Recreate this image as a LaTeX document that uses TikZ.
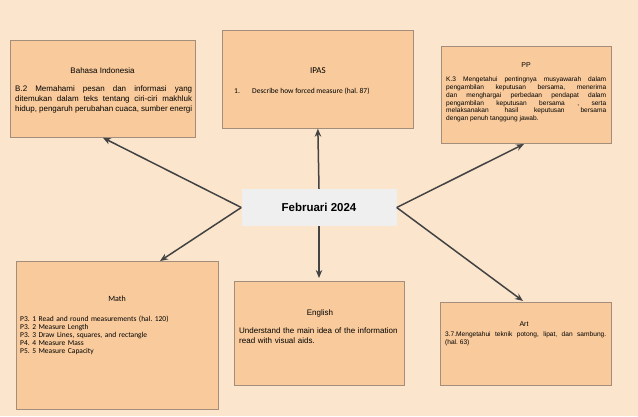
\documentclass[tikz,border=0pt]{standalone}
\usepackage{fontspec}
\setmainfont{Liberation Sans}
\newfontfamily\slidefont{Carlito}
\usetikzlibrary{arrows.meta}
\definecolor{pagebg}{HTML}{FCE5CD}
\definecolor{boxfill}{HTML}{F9CB9C}
\definecolor{boxline}{HTML}{A38E7B}
\definecolor{hubfill}{HTML}{EFEFEF}
\definecolor{linkcol}{HTML}{434343}
\hyphenpenalty=10000
\exhyphenpenalty=10000
\tolerance=9999

\begin{document}
\frenchspacing
\begin{tikzpicture}[x=1pt,y=-1pt,
  topic/.style={draw=boxline,fill=boxfill,line width=0.7pt,inner sep=0pt,anchor=north west},
  hub/.style={fill=hubfill,inner sep=0pt,minimum width=155pt,minimum height=37pt,
    font=\fontsize{11.5}{13}\selectfont\bfseries},
  link/.style={draw=linkcol,line width=1.5pt,-{Stealth[length=8pt,width=6.5pt]}},
  head/.style={anchor=base,inner sep=0pt},
  body/.style={anchor=base west,inner sep=0pt,align=justify}]
  \useasboundingbox (0,0) rectangle (638,416);
  \fill[pagebg] (0,0) rectangle (638,416);
  \node[topic,minimum width=185pt,minimum height=97pt] (bahasa) at ( 10, 40) {};
  \node[topic,minimum width=191pt,minimum height=98pt] (ipas)   at (222, 30) {};
  \node[topic,minimum width=170pt,minimum height=97pt] (pp)     at (441, 46) {};
  \node[topic,minimum width=202pt,minimum height=148pt] (math)  at ( 16,261) {};
  \node[topic,minimum width=170pt,minimum height=104pt] (english) at (234,281) {};
  \node[topic,minimum width=171pt,minimum height=83pt] (art)    at (440,302) {};
  \node[hub] (feb) at (319,207.5) {Februari 2024};
  \node[head,font=\fontsize{8}{9.8}\selectfont] (bahasaT) at (102.5, 73) {Bahasa Indonesia};
  \node[body,text width=177pt,font=\fontsize{8}{9.8}\selectfont] (bahasaB) at ( 15, 91.5)
    {B.2 Memahami pesan dan informasi yang\linebreak
     ditemukan dalam teks tentang ciri-ciri makhluk\linebreak
     hidup, pengaruh perubahan cuaca, sumber energi};
  \node[head,font=\slidefont\fontsize{9}{10}\selectfont] (ipasT) at (318, 73) {IPAS};
  \node[body,font=\slidefont\fontsize{7.5}{9}\selectfont] (ipasB) at (234, 93)
    {\makebox[18pt][l]{1.}Describe how forced measure (hal. 87)};
  \node[head,font=\fontsize{7}{8}\selectfont] (ppT) at (526, 67.5) {PP};
  \node[body,text width=160pt,font=\fontsize{6.6}{7.8}\selectfont] (ppB) at (446, 81.6)
    {K.3 Mengetahui pentingnya musyawarah dalam\linebreak
     pengambilan keputusan bersama, menerima\linebreak
     dan menghargai perbedaan pendapat dalam\linebreak
     pengambilan keputusan bersama , serta\linebreak
     melaksanakan hasil keputusan bersama\linebreak
     dengan penuh tanggung jawab.};
  \node[head,font=\slidefont\fontsize{8}{9}\selectfont] (mathT) at (117, 301.7) {Math};
  \node[body,text width=195pt,align=left,font=\slidefont\fontsize{7.5}{8}\selectfont] (mathB) at ( 20, 321)
    {P3. 1 Read and round measurements (hal. 120)\\
     P3. 2 Measure Length\\
     P3. 3 Draw Lines, squares, and rectangle\\
     P4. 4 Measure Mass\\
     P5. 5 Measure Capacity};
  \node[head,font=\fontsize{8}{9.7}\selectfont] (englishT) at (320, 315) {English};
  \node[body,text width=165pt,align=left,font=\fontsize{8}{9.7}\selectfont] (englishB) at (239, 333.7)
    {Understand the main idea of the information read with visual aids.};
  \node[head,font=\fontsize{7}{8}\selectfont] (artT) at (524, 326.5) {Art};
  \node[body,text width=161pt,font=\fontsize{6.6}{7.7}\selectfont] (artB) at (445, 336.3)
    {3.7.Mengetahui teknik potong, lipat, dan sambung.\linebreak (hal. 63)};
  \coordinate (mathTip) at (160,261);
  \coordinate (englishTip) at (319,278);
  \coordinate (ppTip) at (524,144);
  \coordinate (artTip) at (523,301);
  \draw[link] (feb.west)  -- (bahasa.south);
  \draw[link] (feb.west)  -- (mathTip);
  \draw[link] (feb.north) -- (ipas.south);
  \draw[link] (feb.south) -- (englishTip);
  \draw[link] (feb.east)  -- (ppTip);
  \draw[link] (feb.east)  -- (artTip);
\end{tikzpicture}
\end{document}
